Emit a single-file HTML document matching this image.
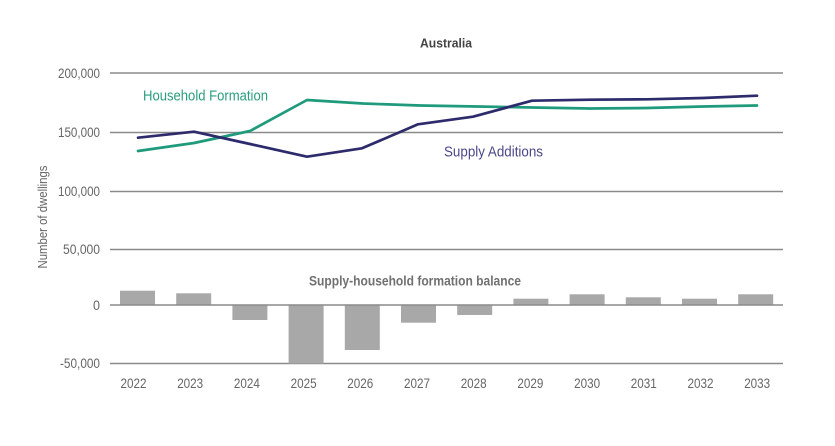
<!DOCTYPE html>
<html><head><meta charset="utf-8"><style>
html,body{margin:0;padding:0;background:#fff;}
svg{display:block;}
text{font-family:"Liberation Sans",sans-serif;}
</style></head><body>
<svg width="835" height="446" viewBox="0 0 835 446" xmlns="http://www.w3.org/2000/svg">
<rect width="835" height="446" fill="#fff"/>
<!-- title -->
<text x="420" y="47.5" font-size="13" font-weight="bold" fill="#444" textLength="52" lengthAdjust="spacingAndGlyphs">Australia</text>
<!-- gridlines -->
<g stroke="#8a8a8a" stroke-width="1.5">
<line x1="110" y1="73" x2="783" y2="73"/>
<line x1="110" y1="132.5" x2="783" y2="132.5"/>
<line x1="110" y1="191.5" x2="783" y2="191.5"/>
<line x1="110" y1="249.5" x2="783" y2="249.5"/>
<line x1="110" y1="363.5" x2="783" y2="363.5"/>
</g>
<!-- y tick labels -->
<g font-size="13.5" fill="#666" text-anchor="end">
<text x="100" y="78" textLength="42" lengthAdjust="spacingAndGlyphs">200,000</text>
<text x="100" y="137" textLength="42" lengthAdjust="spacingAndGlyphs">150,000</text>
<text x="100" y="196" textLength="42" lengthAdjust="spacingAndGlyphs">100,000</text>
<text x="100" y="254" textLength="37" lengthAdjust="spacingAndGlyphs">50,000</text>
<text x="100" y="310" textLength="7" lengthAdjust="spacingAndGlyphs">0</text>
<text x="100" y="368" textLength="40" lengthAdjust="spacingAndGlyphs">-50,000</text>
</g>
<!-- y axis label -->
<text transform="translate(47,217) rotate(-90)" font-size="13" fill="#666" text-anchor="middle" textLength="103" lengthAdjust="spacingAndGlyphs">Number of dwellings</text>
<!-- bars -->
<g fill="#a8a8a8">
<rect x="120" y="290.7" width="35" height="14.3"/>
<rect x="176.2" y="293.3" width="35" height="11.7"/>
<rect x="232.4" y="305" width="35" height="15"/>
<rect x="288.6" y="305" width="35" height="58.5"/>
<rect x="344.8" y="305" width="35" height="45"/>
<rect x="401" y="305" width="35" height="17.7"/>
<rect x="457.2" y="305" width="35" height="10"/>
<rect x="513.4" y="298.7" width="35" height="6.3"/>
<rect x="569.6" y="294.3" width="35" height="10.7"/>
<rect x="625.8" y="297.3" width="35" height="7.7"/>
<rect x="682" y="298.7" width="35" height="6.3"/>
<rect x="738.2" y="294.3" width="35" height="10.7"/>
</g>
<line x1="110" y1="305" x2="783" y2="305" stroke="#8a8a8a" stroke-width="1.5"/>
<!-- balance label -->
<text x="309" y="285.5" font-size="14" font-weight="bold" fill="#707070" textLength="212" lengthAdjust="spacingAndGlyphs">Supply-household formation balance</text>
<!-- x labels -->
<g font-size="13.5" fill="#666" text-anchor="middle">
<text x="133.5" y="388" textLength="26" lengthAdjust="spacingAndGlyphs">2022</text>
<text x="190.2" y="388" textLength="26" lengthAdjust="spacingAndGlyphs">2023</text>
<text x="246.9" y="388" textLength="26" lengthAdjust="spacingAndGlyphs">2024</text>
<text x="303.6" y="388" textLength="26" lengthAdjust="spacingAndGlyphs">2025</text>
<text x="360.3" y="388" textLength="26" lengthAdjust="spacingAndGlyphs">2026</text>
<text x="417" y="388" textLength="26" lengthAdjust="spacingAndGlyphs">2027</text>
<text x="473.7" y="388" textLength="26" lengthAdjust="spacingAndGlyphs">2028</text>
<text x="530.4" y="388" textLength="26" lengthAdjust="spacingAndGlyphs">2029</text>
<text x="587.1" y="388" textLength="26" lengthAdjust="spacingAndGlyphs">2030</text>
<text x="643.8" y="388" textLength="26" lengthAdjust="spacingAndGlyphs">2031</text>
<text x="700.5" y="388" textLength="26" lengthAdjust="spacingAndGlyphs">2032</text>
<text x="757.2" y="388" textLength="26" lengthAdjust="spacingAndGlyphs">2033</text>
</g>
<!-- lines -->
<polyline fill="none" stroke="#1f9a7c" stroke-width="2.7" stroke-linejoin="round" stroke-linecap="round"
 points="138,151 194,143 250,131 307,100 363,103.5 420,105.5 477,106.5 533,107.5 590,108.5 647,108 703,106.5 757,105.5"/>
<polyline fill="none" stroke="#2d2b6b" stroke-width="2.7" stroke-linejoin="round" stroke-linecap="round"
 points="138,137.7 194,131.7 250,144 307,156.7 362,148.3 418,124.3 473,116.7 532,100.7 590,99.7 647,99.3 703,98 757,95.7"/>
<!-- series labels -->
<text x="143" y="100.5" font-size="14.5" fill="#2a9d7f" textLength="125" lengthAdjust="spacingAndGlyphs">Household Formation</text>
<text x="444" y="156.5" font-size="14.5" fill="#4a4888" textLength="99" lengthAdjust="spacingAndGlyphs">Supply Additions</text>
</svg>
</body></html>
